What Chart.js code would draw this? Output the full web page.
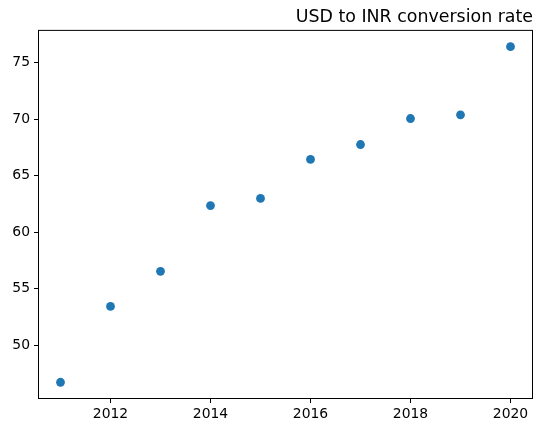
<!DOCTYPE html>
<html>
<head>
<meta charset="utf-8">
<script src="https://cdn.jsdelivr.net/npm/chart.js@4/dist/chart.umd.min.js"></script>
<style>
  html, body { margin: 0; padding: 0; background: #fff; }
  canvas { display: block; }
</style>
</head>
<body>
<canvas id="rate-chart" width="543" height="433"></canvas>
<script>
var years = [2011, 2012, 2013, 2014, 2015, 2016, 2017, 2018, 2019, 2020];
var rates = [46.73, 53.44, 56.54, 62.36, 62.99, 66.44, 67.76, 70.06, 70.39, 76.41];
var xTicks = [2012, 2014, 2016, 2018, 2020];
var yTicks = [50, 55, 60, 65, 70, 75];

window.onload = function(){
    var container = document.getElementById("rate-chart");
    var points = years.map(function(year, i){ return {x: year, y: rates[i]}; });

    // matplotlib frame: box around the whole plot area
    var frameBox = {
      id: 'frameBox',
      afterDraw: function(chart) {
        var a = chart.chartArea, ctx = chart.ctx;
        ctx.save();
        ctx.strokeStyle = '#000';
        ctx.lineWidth = 1;
        ctx.strokeRect(a.left + 0.5, a.top + 0.5, a.right - a.left - 1, a.bottom - a.top - 1);
        ctx.restore();
      }
    };

    function fixedTicks(list) {
      return function(scale) {
        scale.ticks = list.map(function(v){ return {value: v}; });
      };
    }

    var tickFont = {family: "'DejaVu Sans', sans-serif", size: 13.9};

    new Chart(container, {
      type: 'scatter',
      data: {
        datasets: [{
          label: 'USD to INR',
          data: points,
          backgroundColor: '#1f77b4',
          borderWidth: 0,
          pointRadius: 4.4,
          pointHoverRadius: 4.4
        }]
      },
      options: {
        responsive: false,
        devicePixelRatio: 1,
        animation: false,
        events: [],
        layout: { padding: {left: 0, right: 10, top: 0, bottom: 0} },
        plugins: {
          legend: { display: false },
          tooltip: { enabled: false },
          title: {
            display: true,
            text: 'USD to INR conversion rate',
            align: 'end',
            color: '#000',
            font: {family: "'DejaVu Sans', sans-serif", size: 17.4, weight: 'normal', lineHeight: 1.2},
            padding: {top: 7, bottom: 2}
          }
        },
        scales: {
          x: {
            type: 'linear',
            min: 2010.55,
            max: 2020.45,
            afterBuildTicks: fixedTicks(xTicks),
            afterFit: function(scale){ scale.height = 34; },
            grid: { display: true, drawOnChartArea: false, drawTicks: true, tickLength: 4, color: '#000' },
            border: { display: false },
            ticks: {
              color: '#000',
              font: tickFont,
              padding: 3,
              maxRotation: 0,
              callback: function(v){ return String(v); }
            }
          },
          y: {
            min: 45.25,
            max: 77.9,
            afterBuildTicks: fixedTicks(yTicks),
            afterFit: function(scale){ scale.width = 38; },
            grid: { display: true, drawOnChartArea: false, drawTicks: true, tickLength: 4, color: '#000' },
            border: { display: false },
            ticks: {
              color: '#000',
              font: tickFont,
              padding: 4,
              callback: function(v){ return String(v); }
            }
          }
        }
      },
      plugins: [frameBox]
    });
};
</script>
</body>
</html>
